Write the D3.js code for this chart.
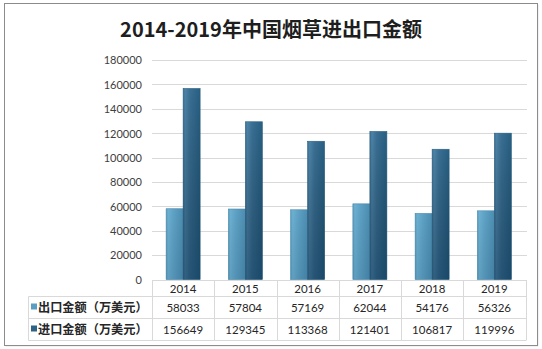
<!DOCTYPE html>
<html><head><meta charset="utf-8">
<script src="https://cdn.jsdelivr.net/npm/d3@7"></script>
<style>
html,body{margin:0;padding:0;background:#fff;}
svg{display:block;}
</style></head>
<body>
<svg id="c" width="542" height="349"></svg>
<script>
const title = "2014-2019年中国烟草进出口金额";
const years = ["2014","2015","2016","2017","2018","2019"];
const seriesNames = ["出口金额（万美元）","进口金额（万美元）"];
const exportVals = [58033,57804,57169,62044,54176,56326];
const importVals = [156649,129345,113368,121401,106817,119996];
const yTicks = [0,20000,40000,60000,80000,100000,120000,140000,160000,180000];

(function(){
const svg = d3.select("#c");
const numFont = "Lato, 'Noto Sans', sans-serif";
const cjkFont = "'Noto Sans CJK SC', 'Noto Sans', sans-serif";

// outer frame
svg.append("rect").attr("x",5.5).attr("y",4.5).attr("width",533).attr("height",342).attr("fill","#e6e6e6");
svg.append("rect").attr("x",4.5).attr("y",3.5).attr("width",533).attr("height",342)
  .attr("fill","#fff").attr("stroke","#8c8c8c").attr("stroke-width",1);

// title
svg.append("text").attr("x",271).attr("y",37).attr("text-anchor","middle")
  .attr("font-family",cjkFont).attr("font-weight","bold").attr("font-size",20)
  .attr("fill","#1e1e1e").text(title);

const pLeft = 152, pRight = 525.5, pTop = 60, base = 279.5;
const x = d3.scaleBand().domain(years).range([pLeft,pRight]).paddingInner(0).paddingOuter(0);
const y = d3.scaleLinear().domain([0,180000]).range([base,pTop]);

// gridlines
svg.append("g").selectAll("line").data(yTicks).join("line")
  .attr("x1",pLeft).attr("x2",pRight+1.5)
  .attr("y1",d=>Math.round(y(d))+0.5).attr("y2",d=>Math.round(y(d))+0.5)
  .attr("stroke","#d9d9d9").attr("stroke-width",1);

// y axis labels
const ax = svg.append("g").attr("transform",`translate(${pLeft-10},0)`)
  .call(d3.axisLeft(y).tickValues(yTicks).tickSize(0).tickPadding(0).tickFormat(d3.format("d")));
ax.select(".domain").remove();
ax.selectAll("text").attr("font-family",numFont).attr("font-size",11).attr("fill","#404040").attr("dy","0.35em");

// gradients
const defs = svg.append("defs");
function hgrad(id, stops){
  const g = defs.append("linearGradient").attr("id",id).attr("x1","0").attr("x2","1").attr("y1","0").attr("y2","0");
  stops.forEach(s=>g.append("stop").attr("offset",s[0]).attr("stop-color",s[1]));
}
hgrad("gLight",[["0%","#5a9cc0"],["12%","#6cb0d2"],["40%","#5fa3c6"],["100%","#4b8db1"]]);
hgrad("gDark",[["0%","#3a7093"],["12%","#4c83a7"],["40%","#3a6f93"],["100%","#275f82"]]);
function vgrad(id, op){
  const g = defs.append("linearGradient").attr("id",id).attr("x1","0").attr("x2","0").attr("y1","0").attr("y2","1");
  g.append("stop").attr("offset","0%").attr("stop-color","#000").attr("stop-opacity",0);
  g.append("stop").attr("offset","100%").attr("stop-color","#00203a").attr("stop-opacity",op);
}
vgrad("vLight",0.12);
vgrad("vDark",0.35);

const bw = 17;
const series = [
  {vals:exportVals, off:-bw, fill:"url(#gLight)", ov:"url(#vLight)", stroke:"#4a89ab", key:"#5a9ec3"},
  {vals:importVals, off:0, fill:"url(#gDark)", ov:"url(#vDark)", stroke:"#2a5f80", key:"#2f6385"}
];
series.forEach(s=>{
  const g = svg.append("g");
  const data = years.map((yr,i)=>({yr, v:s.vals[i]}));
  g.selectAll("rect.b").data(data).join("rect").attr("class","b")
    .attr("x",d=>x(d.yr)+x.bandwidth()/2+s.off).attr("width",bw)
    .attr("y",d=>y(d.v)).attr("height",d=>base-y(d.v))
    .attr("fill",s.fill).attr("stroke",s.stroke).attr("stroke-width",0.6);
  g.selectAll("rect.o").data(data).join("rect").attr("class","o")
    .attr("x",d=>x(d.yr)+x.bandwidth()/2+s.off).attr("width",bw)
    .attr("y",d=>y(d.v)).attr("height",d=>base-y(d.v))
    .attr("fill",s.ov);
});

// data table
const rowTops = [280.5, 296.5, 318.5, 340.5];
const tableLeft = 28.5;
const tg = svg.append("g").attr("stroke","#d9d9d9").attr("stroke-width",1).attr("fill","none");
tg.append("line").attr("x1",pLeft+0.5).attr("x2",pRight+0.5).attr("y1",rowTops[0]).attr("y2",rowTops[0]);
[1,2,3].forEach(i=>tg.append("line").attr("x1",tableLeft).attr("x2",pRight+0.5).attr("y1",rowTops[i]).attr("y2",rowTops[i]));
tg.append("line").attr("x1",tableLeft).attr("x2",tableLeft).attr("y1",rowTops[1]).attr("y2",rowTops[3]);
const colEdges = years.map(d=>x(d)).concat([pRight]);
tg.selectAll("line.v").data(colEdges).join("line").attr("class","v")
  .attr("x1",d=>Math.round(d)+0.5).attr("x2",d=>Math.round(d)+0.5)
  .attr("y1",rowTops[0]).attr("y2",rowTops[3]);

// header
svg.append("g").selectAll("text").data(years).join("text")
  .attr("x",d=>x(d)+x.bandwidth()/2).attr("y",(rowTops[0]+rowTops[1])/2).attr("dy","0.36em")
  .attr("text-anchor","middle").attr("font-family",numFont).attr("font-size",11.5)
  .attr("fill","#262626").text(d=>d);

series.forEach((s,si)=>{
  const cy = (rowTops[si+1]+rowTops[si+2])/2;
  svg.append("rect").attr("x",31).attr("y",cy-4).attr("width",6).attr("height",6).attr("fill",s.key);
  svg.append("text").attr("x",38).attr("y",cy).attr("dy","0.36em")
    .attr("font-family",cjkFont).attr("font-weight","bold").attr("font-size",12.2)
    .attr("fill","#262626").text(seriesNames[si]);
  svg.append("g").selectAll("text").data(years.map((yr,i)=>({yr,v:s.vals[i]}))).join("text")
    .attr("x",d=>x(d.yr)+x.bandwidth()/2).attr("y",cy).attr("dy","0.36em")
    .attr("text-anchor","middle").attr("font-family",numFont).attr("font-size",11.5)
    .attr("fill","#262626").text(d=>d.v);
});
})();
</script>
</body></html>
